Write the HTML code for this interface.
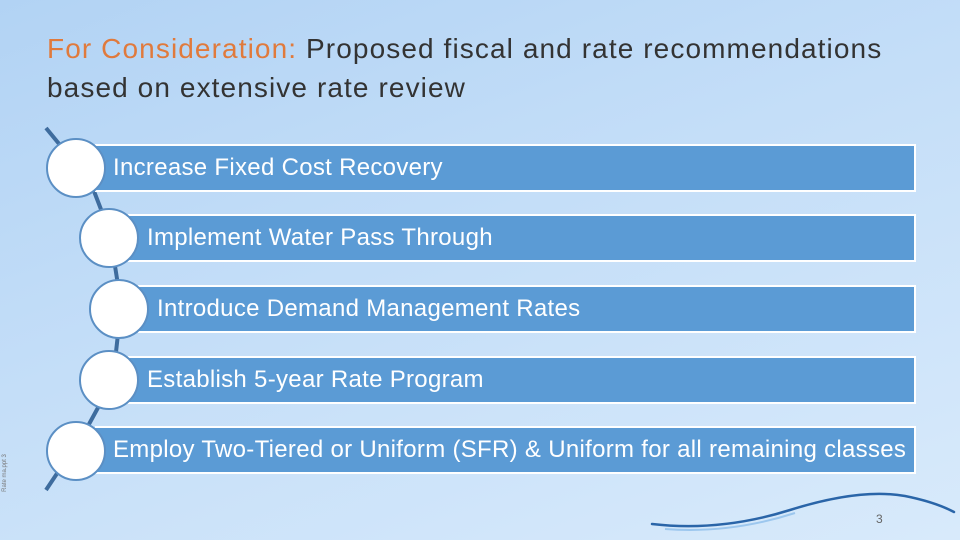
<!DOCTYPE html>
<html><head><meta charset="utf-8"><style>
body{margin:0}
#slide{position:relative;width:960px;height:540px;overflow:hidden;font-family:"Segoe UI","Liberation Sans",sans-serif;
background:linear-gradient(160deg,#b2d3f4 0%,#c4def8 45%,#d8eafb 100%);}
.title{position:absolute;left:47px;top:29px;font-size:28px;letter-spacing:1.1px;line-height:39px;color:#333;}
.title .hl{color:#e07a3c}
.bar{position:absolute;height:44px;background:#5b9bd5;border:2px solid #fff;border-left:none;right:44px;color:#fff;font-size:24px;letter-spacing:0.3px;line-height:44px;white-space:nowrap;box-sizing:content-box}
.circ{position:absolute;width:56px;height:56px;border-radius:50%;background:#fff;border:2px solid #5b8fc4}
.pn{position:absolute;left:876px;top:512px;font-size:12px;color:#666}
.side{position:absolute;left:-14px;top:470px;font-size:6px;color:#777;transform:rotate(-90deg)}
</style></head><body>
<div id="slide">
<div class="title"><span class="hl">For Consideration:</span> Proposed fiscal and rate recommendations<br>based on extensive rate review</div>
<svg width="960" height="540" style="position:absolute;left:0;top:0">
<path d="M46 128 L60 145 M92 186 L102 212 M115 266 L118 285 M118 334 L116 352 M100 404 L88 426 M58 472 L46 490" stroke="#3e6c9e" stroke-width="4" fill="none"/>
<path d="M652 524 Q720 532 790 510 Q860 488 905 496 Q935 502 954 512" stroke="#2a65a8" stroke-width="2.5" fill="none" stroke-linecap="round"/>
<path d="M665 529 Q730 534 795 513" stroke="#9cc7ee" stroke-width="2" fill="none"/>
</svg>
<div class="bar" style="left:95px;top:144px;padding-left:18px">Increase Fixed Cost Recovery</div>
<div class="bar" style="left:128px;top:214px;padding-left:19px">Implement Water Pass Through</div>
<div class="bar" style="left:138px;top:285px;padding-left:19px">Introduce Demand Management Rates</div>
<div class="bar" style="left:128px;top:356px;padding-left:19px">Establish 5-year Rate Program</div>
<div class="bar" style="left:95px;top:426px;padding-left:18px">Employ Two-Tiered or Uniform (SFR) &amp; Uniform for all remaining classes</div>
<div class="circ" style="left:46px;top:138px"></div>
<div class="circ" style="left:79px;top:208px"></div>
<div class="circ" style="left:89px;top:279px"></div>
<div class="circ" style="left:79px;top:350px"></div>
<div class="circ" style="left:46px;top:421px"></div>
<div class="pn">3</div>
<div class="side">Rate ma.ppt 3</div>
</div>
</body></html>
